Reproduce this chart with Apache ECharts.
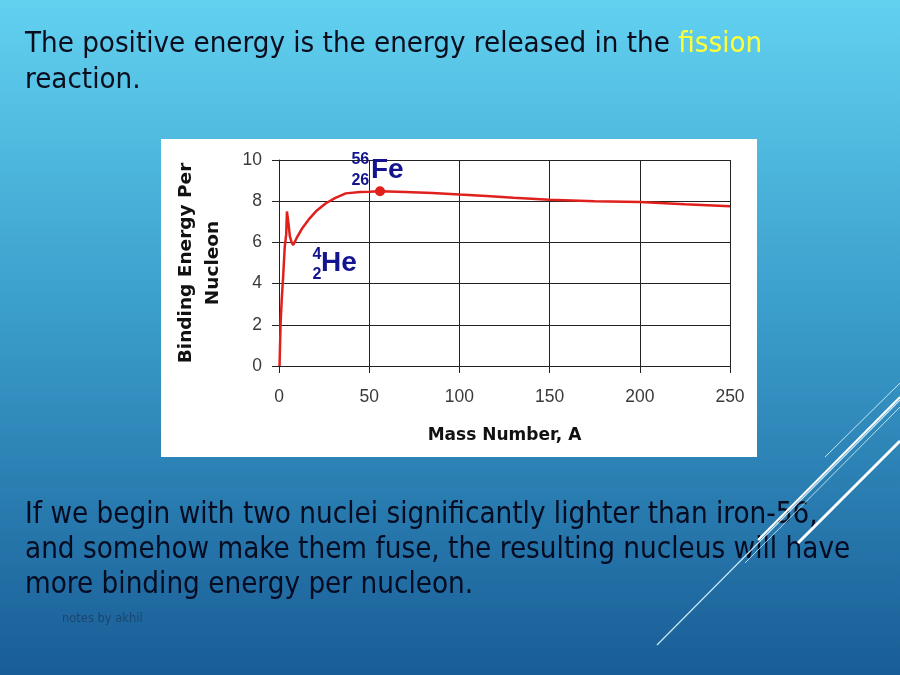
<!DOCTYPE html>
<html>
<head>
<meta charset="utf-8">
<script src="https://cdn.jsdelivr.net/npm/echarts@6/dist/echarts.min.js"></script>
<style>
html,body{margin:0;padding:0;background:#1a5f98;}
#c{width:900px;height:675px;}
</style>
</head>
<body>
<div id="c"></div>
<script>
// ---- data ----
var massNumbers   = [0.3, 0.9, 1.5, 2.4, 3.2, 4.0, 4.4, 4.8, 5.3, 6.0, 7.0, 7.9, 10, 13, 17, 21, 26, 31, 37, 45, 50, 56, 70, 85, 100, 115, 130, 150, 175, 200, 225, 250];
var bindingEnergy = [0.0, 2.1, 3.2, 4.5, 5.8, 6.4, 7.5, 7.45, 6.9, 6.3, 6.0, 5.87, 6.25, 6.7, 7.17, 7.55, 7.9, 8.15, 8.38, 8.45, 8.46, 8.48, 8.45, 8.4, 8.32, 8.25, 8.17, 8.07, 8.0, 7.96, 7.85, 7.75];
var ironA = 56, ironBE = 8.48;
var xTicks = [0, 50, 100, 150, 200, 250];
var yTicks = [0, 2, 4, 6, 8, 10];
var noteTexts  = ['56', '26', 'Fe', '4', '2', 'He'];
var noteA      = [50, 50, 51, 21, 21, 23.3];
var noteBE     = [10.02, 8.98, 9.5, 5.4, 4.43, 5.0];
var xName = 'Mass Number, A';
var yName = 'Binding Energy Per\nNucleon';
var topLines = ['The positive energy is the energy released in the ', 'fission', 'reaction.'];
var bottomLines = ['If we begin with two nuclei significantly lighter than iron-56,',
                   'and somehow make them fuse, the resulting nucleus will have',
                   'more binding energy per nucleon.'];
var footer = 'notes by akhil';

var curve = massNumbers.map(function (a, i) { return [a, bindingEnergy[i]]; });
var notes = noteTexts.map(function (t, i) {
  var big = (t === 'Fe' || t === 'He');
  return {
    value: [noteA[i], noteBE[i]],
    name: t,
    label: {
      align: big ? 'left' : (t === '4' || t === '2' ? 'center' : 'right'),
      fontSize: big ? 28 : 16
    }
  };
});

var bodyFont = '"DejaVu Sans Condensed", "DejaVu Sans", sans-serif';
var chart = echarts.init(document.getElementById('c'));
chart.setOption({
  animation: false,
  backgroundColor: {
    type: 'linear', x: 0, y: 0, x2: 0, y2: 1,
    colorStops: [
      {offset: 0, color: '#62d1f0'},
      {offset: 0.45, color: '#3b9fcc'},
      {offset: 1, color: '#195d96'}
    ]
  },
  graphic: [
    {type: 'rect', z: -10, shape: {x: 161, y: 139, width: 596, height: 318}, style: {fill: '#ffffff'}},
    {type: 'text', left: 25, top: 30, style: {
      text: '{a|' + topLines[0] + '}{b|' + topLines[1] + '}',
      rich: {
        a: {fontFamily: bodyFont, fontSize: 29.2, fill: '#0b0d1c'},
        b: {fontFamily: bodyFont, fontSize: 29.2, fill: '#ffff3a'}
      }
    }},
    {type: 'text', left: 25, top: 66, style: {text: topLines[2], fontFamily: bodyFont, fontSize: 29.2, fill: '#0b0d1c'}},
    {type: 'text', left: 25, top: 498, style: {text: bottomLines.join('\n'), fontFamily: bodyFont, fontSize: 29.3, lineHeight: 35, fill: '#050c22'}},
    {type: 'text', left: 62, top: 613, style: {text: footer, fontFamily: '"DejaVu Sans", sans-serif', fontSize: 11.5, fill: '#1d4470'}},
    {type: 'line', z: 50, shape: {x1: 825, y1: 457, x2: 900, y2: 383}, style: {stroke: 'rgba(220,245,255,0.85)', lineWidth: 1}},
    {type: 'line', z: 50, shape: {x1: 657, y1: 645, x2: 900, y2: 400}, style: {stroke: 'rgba(225,247,255,0.9)', lineWidth: 1.2}},
    {type: 'line', z: 50, shape: {x1: 758, y1: 540, x2: 900, y2: 397}, style: {stroke: '#ffffff', lineWidth: 2}},
    {type: 'line', z: 50, shape: {x1: 745, y1: 563, x2: 900, y2: 407}, style: {stroke: 'rgba(200,238,255,0.85)', lineWidth: 1}},
    {type: 'line', z: 50, shape: {x1: 798, y1: 543, x2: 900, y2: 441}, style: {stroke: '#ffffff', lineWidth: 3}}
  ],
  grid: {left: 279, top: 160, width: 451, height: 206, containLabel: false},
  xAxis: {
    type: 'value', min: 0, max: 250, interval: 50,
    name: xName, nameLocation: 'middle', nameGap: 61,
    nameTextStyle: {fontFamily: '"DejaVu Sans", sans-serif', fontWeight: 'bold', fontSize: 17, color: '#111'},
    axisLine: {show: true, lineStyle: {color: '#222', width: 1}},
    axisTick: {show: true, inside: false, length: 7, lineStyle: {color: '#222'}},
    axisLabel: {margin: 22, fontFamily: '"Liberation Sans", Arial, sans-serif', fontSize: 17.5, color: '#3a3a3a',
      formatter: function (v) { return xTicks.indexOf(v) >= 0 ? String(v) : ''; }},
    splitLine: {show: true, lineStyle: {color: '#222', width: 1}}
  },
  yAxis: {
    type: 'value', min: 0, max: 10, interval: 2,
    name: yName, nameLocation: 'middle', nameRotate: 90, nameGap: 52,
    nameTextStyle: {fontFamily: '"DejaVu Sans", sans-serif', fontWeight: 'bold', fontSize: 18.5, lineHeight: 27, color: '#111'},
    axisLine: {show: true, lineStyle: {color: '#222', width: 1}},
    axisTick: {show: true, inside: false, length: 7, lineStyle: {color: '#222'}},
    axisLabel: {margin: 17, fontFamily: '"Liberation Sans", Arial, sans-serif', fontSize: 17.5, color: '#3a3a3a',
      formatter: function (v) { return yTicks.indexOf(v) >= 0 ? String(v) : ''; }},
    splitLine: {show: true, lineStyle: {color: '#222', width: 1}}
  },
  series: [
    {
      type: 'line', data: curve, symbol: 'none', smooth: false, z: 5,
      lineStyle: {color: '#e0201c', width: 2.5}
    },
    {
      type: 'scatter', data: [[ironA, ironBE]], symbolSize: 10, z: 6,
      itemStyle: {color: '#e0201c', opacity: 1}
    },
    {
      type: 'scatter', data: notes, symbolSize: 0, z: 7, silent: true, clip: false,
      itemStyle: {opacity: 1, color: '#14148f'},
      label: {
        show: true, position: 'inside', verticalAlign: 'middle',
        formatter: function (p) { return p.name; },
        fontFamily: '"Liberation Sans", Arial, sans-serif', fontWeight: 'bold', color: '#14148f'
      }
    }
  ]
});
</script>
</body>
</html>
